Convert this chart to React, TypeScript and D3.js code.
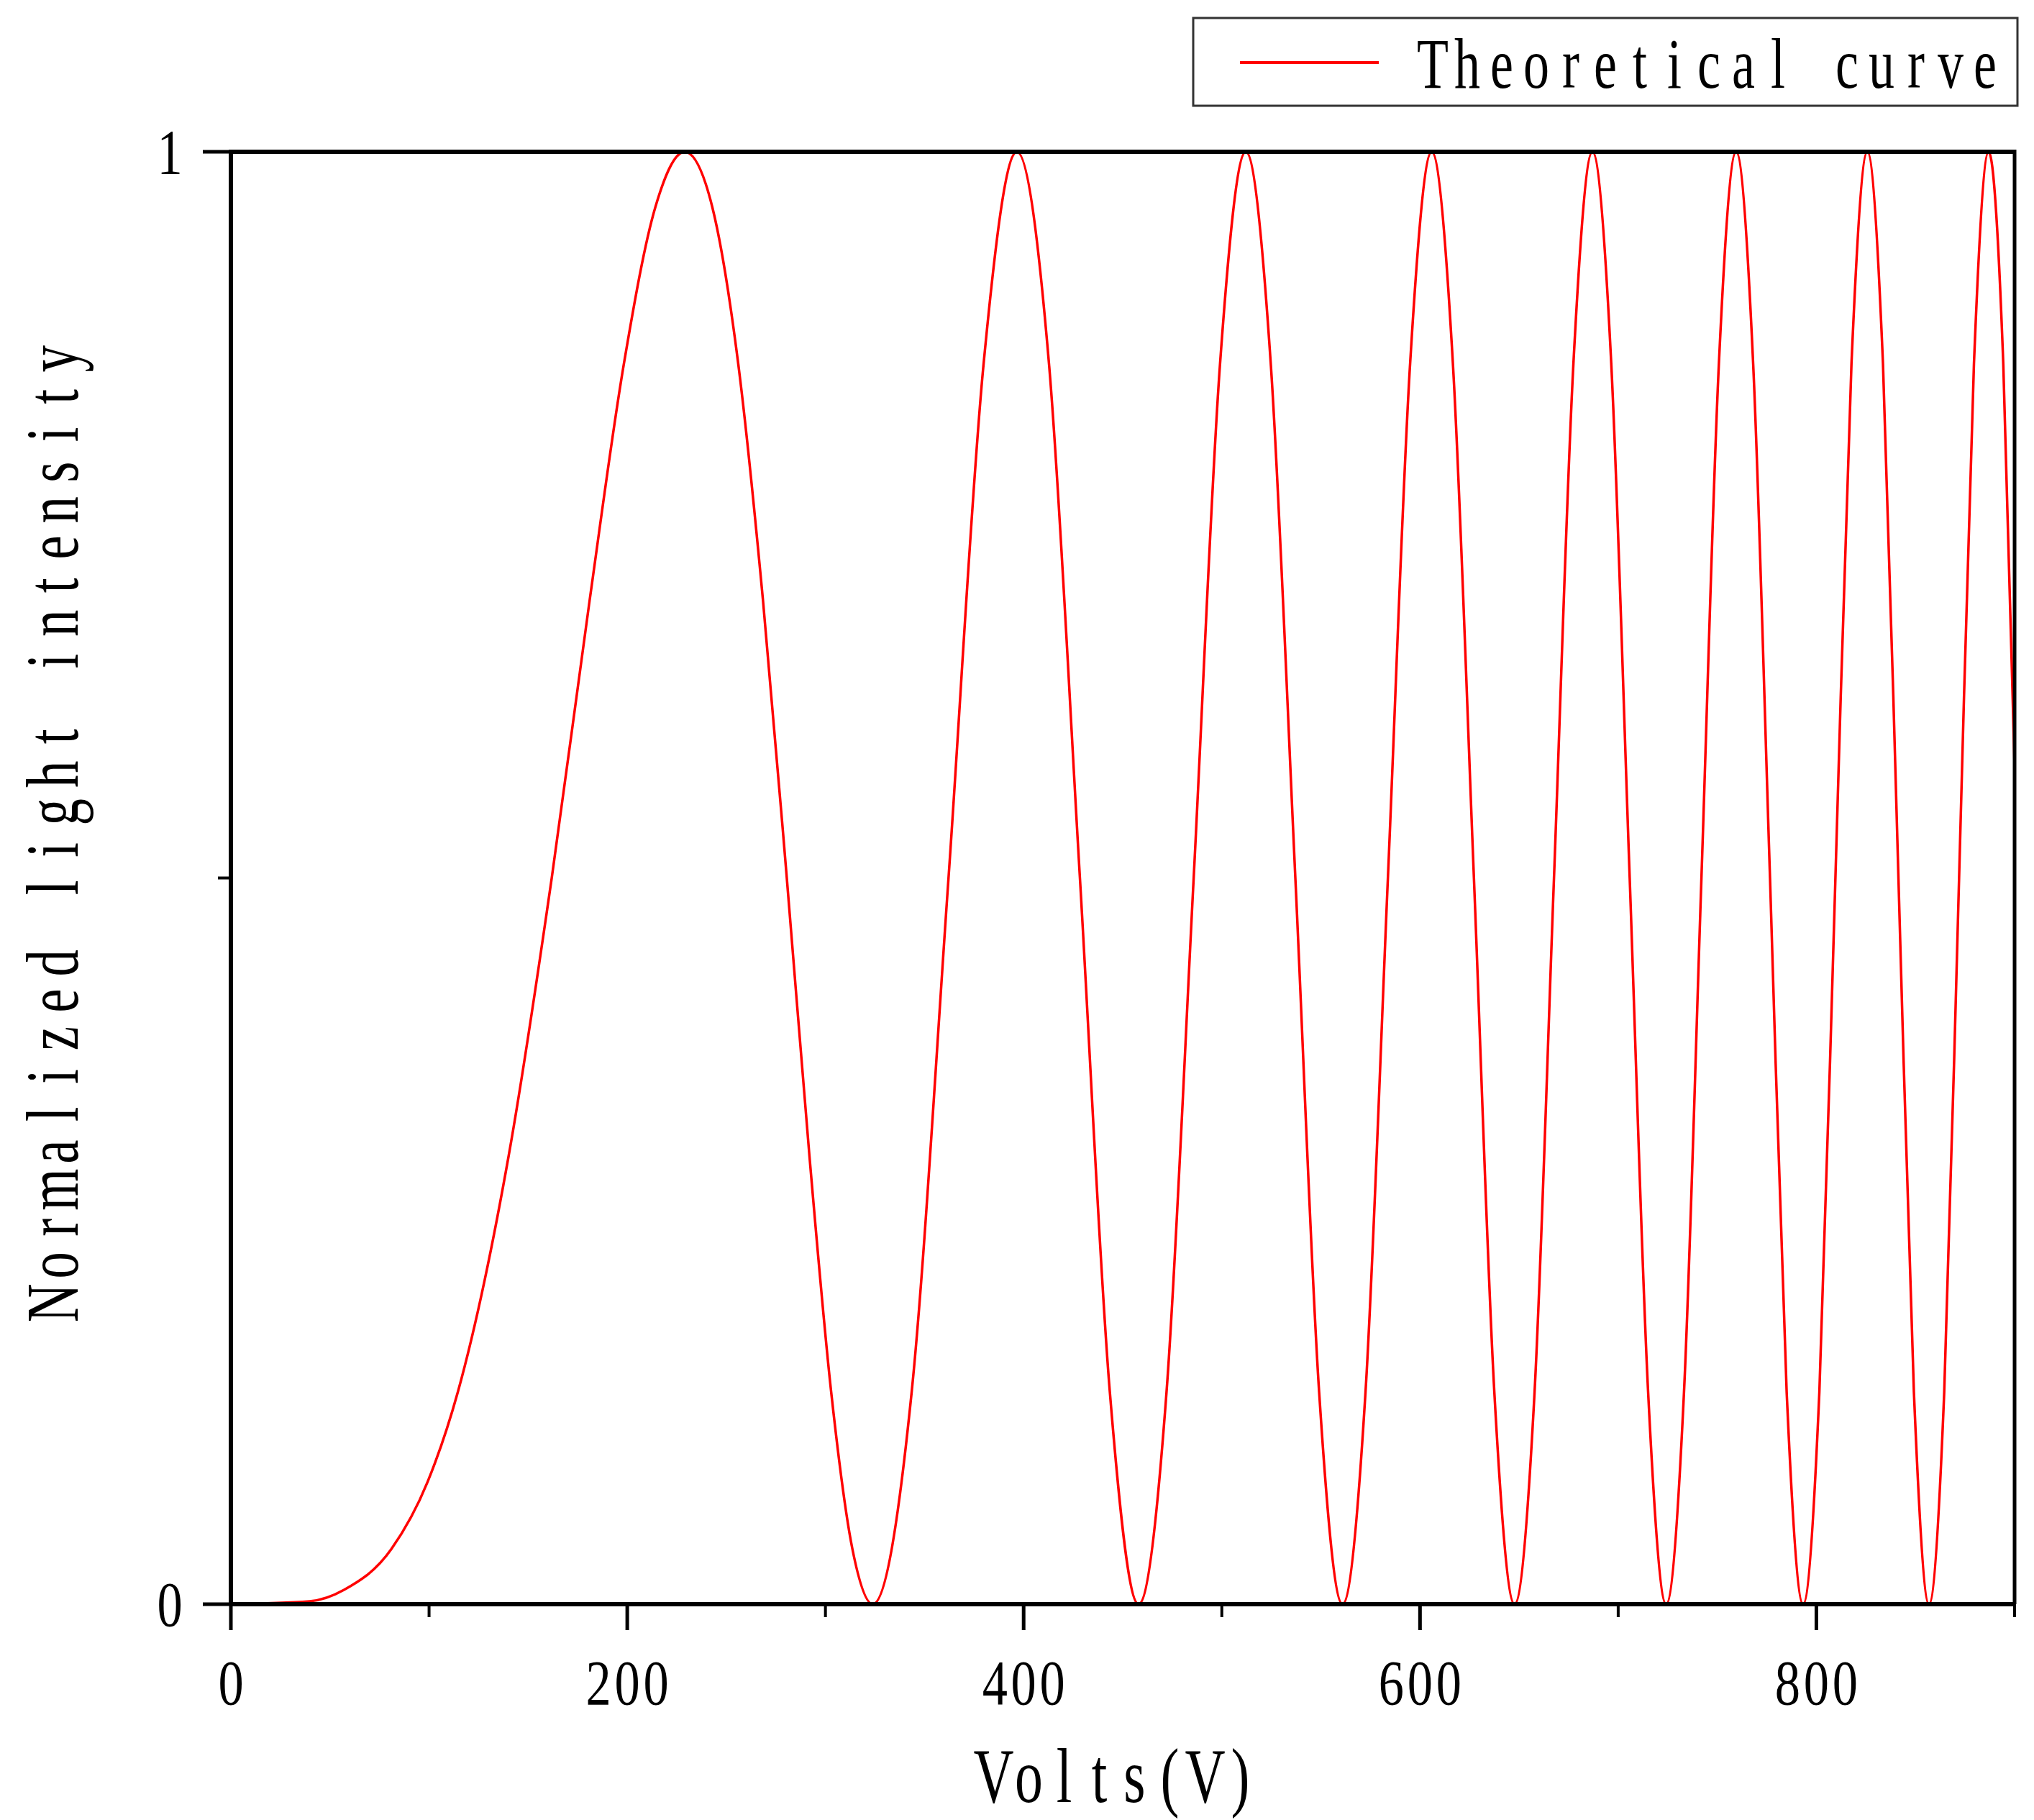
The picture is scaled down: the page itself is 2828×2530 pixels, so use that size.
import React from "react";
import * as d3 from "d3";

// Data
const volts: number[] = [
  0, 39.7, 57.3, 81.0, 99.2, 114.5, 140.2, 161.9, 181.0, 198.3, 214.2, 229.0,
  242.9, 256.0, 268.5, 280.5, 291.9, 302.9, 313.6, 323.9,
  343.5, 362.1, 379.8, 396.6, 412.8, 428.4, 443.5, 458.0,
  472.1, 485.8, 499.1, 512.1, 524.7, 537.1, 549.1, 560.9,
  572.5, 583.8, 595.0, 605.9, 616.6, 627.2, 637.5, 647.7,
  657.8, 667.6, 677.4, 687.0, 696.5, 705.8, 715.1, 724.2,
  733.2, 742.0, 750.8, 759.5, 768.1, 776.6, 785.0, 793.3,
  801.5, 809.6, 817.7, 825.7, 833.6, 841.4, 849.2, 856.8,
  864.5, 872.0, 879.5, 886.9, 894.3, 900,
];
const intensity: number[] = [
  0, 0.002, 0.01, 0.038, 0.084, 0.146, 0.309, 0.5, 0.691, 0.854, 0.962, 1,
  0.962, 0.854, 0.691, 0.5, 0.309, 0.146, 0.038, 0,
  0.146, 0.5, 0.854, 1, 0.854, 0.5, 0.146, 0,
  0.146, 0.5, 0.854, 1, 0.854, 0.5, 0.146, 0,
  0.146, 0.5, 0.854, 1, 0.854, 0.5, 0.146, 0,
  0.146, 0.5, 0.854, 1, 0.854, 0.5, 0.146, 0,
  0.146, 0.5, 0.854, 1, 0.854, 0.5, 0.146, 0,
  0.146, 0.5, 0.854, 1, 0.854, 0.5, 0.146, 0,
  0.146, 0.5, 0.854, 1, 0.854, 0.577,
];
const xMajorTicks: number[] = [0, 200, 400, 600, 800];
const xMinorTicks: number[] = [100, 300, 500, 700, 900];
const yMajorTicks: number[] = [0, 1];
const yMinorTicks: number[] = [0.5];
const xTitle = "Volts(V)";
const yTitle = "Normalized light intensity";
const legendLabel = "Theoretical curve";

const W = 2828;
const H = 2530;
const FONT = "'Liberation Serif', 'Times New Roman', serif";

type MonoProps = {
  text: string;
  x: number;
  y: number;
  size: number;
  cell: number;
  anchor?: "start" | "middle" | "end";
  rotate?: number;
  squeeze?: number;
};

// Monospaced serif text: each character centred in a fixed-width cell
function MonoText({ text, x, y, size, cell, anchor = "start", rotate = 0, squeeze = 0.72 }: MonoProps) {
  const chars = Array.from(text);
  const total = chars.length * cell;
  const offset = anchor === "start" ? 0 : anchor === "middle" ? total / 2 : total;
  return (
    <g transform={`translate(${x},${y}) rotate(${rotate})`}>
      <text transform={`scale(${squeeze},1)`} fontFamily={FONT} fontSize={size} fill="#000">
        {chars.map((c, i) =>
          c === " " ? null : (
            <tspan key={i} x={((i + 0.5) * cell - offset) / squeeze} y={0} textAnchor="middle">
              {c}
            </tspan>
          )
        )}
      </text>
    </g>
  );
}

export default function App() {
  if (typeof document !== "undefined") document.body.style.margin = "0";
  const x = d3.scaleLinear().domain([0, 900]).range([321, 2801]);
  const y = d3.scaleLinear().domain([0, 1]).range([2230, 211]);
  const pts = volts.map((v, i) => [v, intensity[i]] as [number, number]);
  const line = d3
    .line<[number, number]>()
    .x((d) => x(d[0]))
    .y((d) => y(d[1]))
    .curve(d3.curveMonotoneX);
  const [x0, x1] = x.range();
  const [y0, y1] = y.range();
  return (
    <svg width={W} height={H} style={{ position: "absolute", left: 0, top: 0, background: "#fff" }}>
      <rect x={0} y={0} width={W} height={H} fill="#fff" />
      <path d={line(pts) || ""} fill="none" stroke="#ff0000" strokeWidth={3.5} />
      {/* frame */}
      <line x1={x0} x2={x1} y1={y1} y2={y1} stroke="#000" strokeWidth={6} />
      <line x1={x1} x2={x1} y1={y1 - 3} y2={y0} stroke="#000" strokeWidth={5} />
      <line x1={x0} x2={x1} y1={y0} y2={y0} stroke="#000" strokeWidth={6} />
      <line x1={x0} x2={x0} y1={y1 - 3} y2={y0} stroke="#000" strokeWidth={6} />
      {/* x ticks */}
      {xMajorTicks.map((t) => (
        <g key={"xm" + t}>
          <line x1={x(t)} x2={x(t)} y1={y0} y2={y0 + 36} stroke="#000" strokeWidth={5} />
          <MonoText text={String(t)} x={x(t)} y={2369} size={88} cell={40} anchor="middle" squeeze={0.8} />
        </g>
      ))}
      {xMinorTicks.map((t) => (
        <line key={"xn" + t} x1={x(t)} x2={x(t)} y1={y0} y2={y0 + 18} stroke="#000" strokeWidth={4} />
      ))}
      {/* y ticks */}
      {yMajorTicks.map((t) => (
        <g key={"ym" + t}>
          <line x1={x0 - 39} x2={x0} y1={y(t)} y2={y(t)} stroke="#000" strokeWidth={5} />
          <MonoText text={String(t)} x={256} y={y(t) + 30} size={88} cell={40} anchor="end" squeeze={0.8} />
        </g>
      ))}
      {yMinorTicks.map((t) => (
        <line key={"yn" + t} x1={x0 - 18} x2={x0} y1={y(t)} y2={y(t)} stroke="#000" strokeWidth={4} />
      ))}
      {/* axis titles */}
      <MonoText text={xTitle} x={1553} y={2505} size={108} cell={49} anchor="middle" />
      <MonoText text={yTitle} x={108} y={1155} size={104} cell={52.5} anchor="middle" rotate={-90} />
      {/* legend */}
      <rect x={1659} y={25} width={1146} height={122} fill="#fff" stroke="#333" strokeWidth={3} />
      <line x1={1724} x2={1917} y1={87} y2={87} stroke="#ff0000" strokeWidth={4} />
      <MonoText text={legendLabel} x={1968} y={122} size={100} cell={48} anchor="start" />
    </svg>
  );
}
